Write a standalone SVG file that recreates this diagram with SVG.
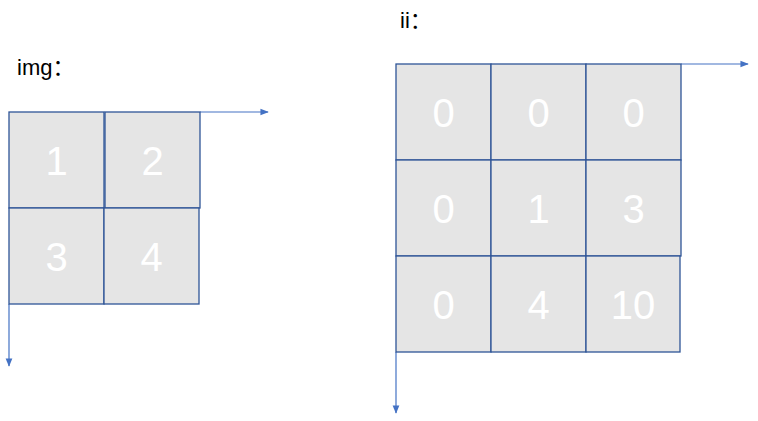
<svg xmlns="http://www.w3.org/2000/svg" width="758" height="421" viewBox="0 0 758 421">
<style>
.c{fill:#e5e5e5;stroke:#2f5597;stroke-width:1.3}
.n{fill:#fff;font-family:"Liberation Sans",sans-serif;font-size:40px;text-anchor:middle}
.t{fill:#000;font-family:"Liberation Sans","Noto Sans CJK SC",sans-serif;font-size:22px}
.a{stroke:#4472c4;stroke-width:1.2;fill:none}
</style>
<defs><marker id="m" viewBox="0 0 10 10" refX="9" refY="5" markerWidth="7" markerHeight="7" orient="auto"><path d="M0,1L10,5L0,9z" fill="#4472c4"/></marker></defs>
<rect width="758" height="421" fill="#fff"/>
<text class="t" x="17" y="75">img：</text>
<text class="t" x="400" y="28">ii：</text>
<g id="connectors">
<line class="a" x1="200" y1="112" x2="268" y2="112" marker-end="url(#m)"/>
<line class="a" x1="9" y1="304" x2="9" y2="366" marker-end="url(#m)"/>
<line class="a" x1="681" y1="64" x2="748" y2="64" marker-end="url(#m)"/>
<line class="a" x1="396" y1="352" x2="396" y2="413" marker-end="url(#m)"/>
</g>
<g id="img">
<g id="img1"><rect class="c" x="9" y="112" width="95" height="96"/><text class="n" x="56.5" y="175">1</text></g>
<g id="img2"><rect class="c" x="105" y="112" width="95" height="96"/><text class="n" x="152.5" y="175">2</text></g>
<g id="img3"><rect class="c" x="9" y="208" width="95" height="96"/><text class="n" x="56.5" y="271">3</text></g>
<g id="img4"><rect class="c" x="104" y="208" width="95" height="96"/><text class="n" x="151.5" y="271">4</text></g>
</g>
<g id="ii">
<g id="ii00"><rect class="c" x="396" y="64" width="95" height="96"/><text class="n" x="443.5" y="127">0</text></g>
<g id="ii01"><rect class="c" x="491" y="64" width="95" height="96"/><text class="n" x="538.5" y="127">0</text></g>
<g id="ii02"><rect class="c" x="586" y="64" width="95" height="96"/><text class="n" x="633.5" y="127">0</text></g>
<g id="ii10"><rect class="c" x="396" y="160" width="95" height="96"/><text class="n" x="443.5" y="223">0</text></g>
<g id="ii11"><rect class="c" x="491" y="160" width="95" height="96"/><text class="n" x="538.5" y="223">1</text></g>
<g id="ii12"><rect class="c" x="586" y="160" width="95" height="96"/><text class="n" x="633.5" y="223">3</text></g>
<g id="ii20"><rect class="c" x="396" y="256" width="95" height="96"/><text class="n" x="443.5" y="319">0</text></g>
<g id="ii21"><rect class="c" x="491" y="256" width="95" height="96"/><text class="n" x="538.5" y="319">4</text></g>
<g id="ii22"><rect class="c" x="586" y="256" width="94" height="96"/><text class="n" x="633" y="319">10</text></g>
</g>
</svg>
